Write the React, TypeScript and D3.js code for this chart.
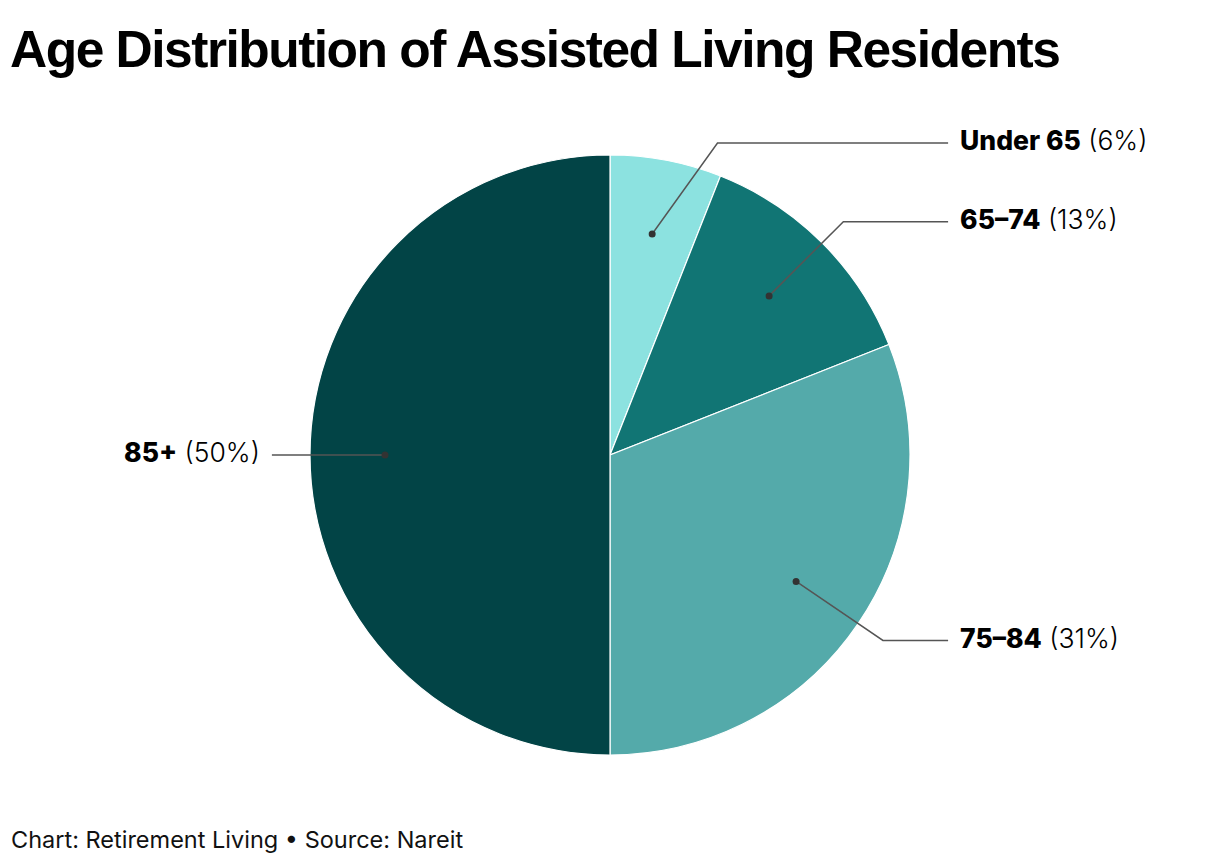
import React, { useEffect, useRef } from 'react';
import * as d3 from 'd3';

// age groups and their share of residents (%)
const ageGroups = ['Under 65', '65–74', '75–84', '85+'];
const shares = [6, 13, 31, 50];
const sliceColors = ['#8ce2e0', '#117574', '#54aaaa', '#024446'];

const width = 1220,
    height = 864;

export default function App() {
    const ref = useRef<SVGSVGElement>(null);

    useEffect(() => {
        const svg = d3.select(ref.current);
        svg.selectAll('*').remove();

        const cx = 610,
            cy = 455,
            radius = 300;

        const data = ageGroups.map((name, i) => ({ name, value: shares[i], color: sliceColors[i] }));

        const pie = d3.pie<any>().sort(null).value(d => d.value);
        const arcs = pie(data);

        const arc = d3.arc<any>().innerRadius(0).outerRadius(radius);
        // where the dots sit
        const dotArc = d3.arc<any>().innerRadius(radius * 0.75).outerRadius(radius * 0.75);

        // title
        svg.append('text')
            .attr('x', 10)
            .attr('y', 67)
            .attr('font-family', '"Liberation Sans", Arial, sans-serif')
            .attr('font-weight', 700)
            .attr('font-size', 51.5)
            .attr('letter-spacing', -1.5)
            .attr('fill', '#000')
            .text('Age Distribution of Assisted Living Residents');

        const g = svg.append('g')
            .attr('transform', `translate(${cx}, ${cy})`);

        // slices
        g.selectAll('path.slice')
            .data(arcs)
            .enter()
            .append('path')
            .attr('class', 'slice')
            .attr('d', arc)
            .attr('fill', d => d.data.color)
            .attr('stroke', '#fff')
            .attr('stroke-width', 1.2);

        // leader lines + labels
        const elbowR = radius * 1.1;
        const lineR = radius * 1.127;
        const textR = radius * 1.167;
        const topLimit = -312; // labels can't climb above this

        arcs.forEach(d => {
            const mid = (d.startAngle + d.endAngle) / 2;
            const [dx, dy] = dotArc.centroid(d);
            const right = Math.sin(mid) >= 0;
            let ey = -Math.cos(mid) * elbowR;
            if (ey < topLimit) ey = topLimit;
            const ex = (right ? 1 : -1) * Math.sqrt(elbowR * elbowR - ey * ey);
            const lx = (right ? 1 : -1) * lineR;

            g.append('polyline')
                .attr('points', [[dx, dy], [ex, ey], [lx, ey]].map(p => p.join(',')).join(' '))
                .attr('fill', 'none')
                .attr('stroke', '#555')
                .attr('stroke-width', 1.5);

            g.append('circle')
                .attr('cx', dx)
                .attr('cy', dy)
                .attr('r', 3.5)
                .attr('fill', '#333');

            const t = g.append('text')
                .attr('x', (right ? 1 : -1) * textR)
                .attr('y', ey)
                .attr('dy', '0.27em')
                .attr('text-anchor', right ? 'start' : 'end')
                .attr('font-family', 'Inter, sans-serif')
                .attr('font-size', 26.5)
                .attr('fill', '#000');
            t.append('tspan')
                .attr('font-weight', 800)
                .text(d.data.name);
            t.append('tspan')
                .attr('font-weight', 300)
                .text(` (${d.data.value}%)`);
        });

        // footer
        svg.append('text')
            .attr('x', 11)
            .attr('y', 848)
            .attr('font-family', 'Inter, sans-serif')
            .attr('font-size', 23.5)
            .attr('fill', '#111')
            .text('Chart: Retirement Living • Source: Nareit');
    }, []);

    return (
        <svg ref={ref} width={width} height={height}
             style={{ display: 'block', position: 'absolute', left: 0, top: 0 }} />
    );
}
